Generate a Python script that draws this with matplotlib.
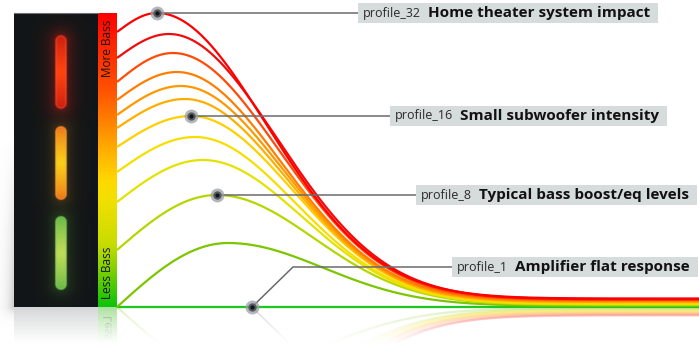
import numpy as np
import matplotlib
matplotlib.use('Agg')
import matplotlib.pyplot as plt
from matplotlib.patches import Rectangle, PathPatch
from matplotlib.colors import LinearSegmentedColormap, to_rgb
from matplotlib.textpath import TextPath
from matplotlib.font_manager import FontProperties
from matplotlib.transforms import Affine2D

FONT = 'Open Sans'

# bass profiles, top (most bass) to bottom (flat)
peak_x = [40, 52, 56, 60, 64, 68, 74, 78, 86, 100, 111, 135]
peak_h = [294, 273, 254, 235, 221, 208, 191, 170, 147, 112, 64, 0]
start_h = [275, 249, 225, 207, 192, 179, 160, 135, 105, 57, 0, 0]
fall_w = [110, 108, 106, 104, 103, 102, 101, 100, 99, 97, 95, 95]
tail_h = [8.5, 7.8, 7.1, 6.4, 5.7, 5.0, 4.3, 3.6, 2.9, 2.2, 1.2, 0.0]
colors = ['#ff0000', '#f00c0c', '#ff4a08', '#ff7e00', '#ff9800', '#ffae00',
          '#ffcf00', '#f6df00', '#e4e200', '#b6d600', '#7cc600', '#1fc81f']

# annotated profiles
ann_idx = [0, 6, 9, 11]
ann_tag = ['profile_32', 'profile_16', 'profile_8', 'profile_1']
ann_title = ['Home theater system impact', 'Small subwoofer intensity',
             'Typical bass boost/eq levels', 'Amplifier flat response']
ann_box_x = [241, 273, 299, 335]
ann_box_y = [294, 191, 112, 40]


def profile(xs, i):
    y = np.empty_like(xs)
    left = xs <= peak_x[i]
    u = xs[left] / peak_x[i]
    y[left] = start_h[i] + (peak_h[i] - start_h[i]) * np.sin(np.pi / 2 * u)
    dx = xs[~left] - peak_x[i]
    y[~left] = tail_h[i] + (peak_h[i] - tail_h[i]) * np.exp(-dx ** 2 / (2 * fall_w[i] ** 2))
    return y


def pill(ax, cx, yb, yt, w, end_c, mid_c, rim_c, glow_c, glow_a, clip):
    m = 24
    x0, x1 = cx - w / 2 - m, cx + w / 2 + m
    y0, y1 = yb - m, yt + m
    gx = np.linspace(x0, x1, int((x1 - x0) * 3))
    gy = np.linspace(y0, y1, int((y1 - y0) * 3))
    X, Y = np.meshgrid(gx, gy)
    r = w / 2
    cy = np.clip(Y, yb + r, yt - r)
    d = np.hypot(X - cx, Y - cy) - r
    pa = np.clip(0.5 - d, 0, 1)
    v = np.clip((Y - yb) / (yt - yb), 0, 1)
    c = (1 - np.abs(2 * v - 1)) ** 0.7
    e = np.array(to_rgb(end_c))
    mc = np.array(to_rgb(mid_c))
    rgb = e + (mc - e) * c[..., None]
    # lighter rim near the edge
    rim = np.clip(1 - np.abs(d + 1.0) / 1.2, 0, 1) * 0.45
    rgb = rgb * (1 - rim[..., None]) + np.array(to_rgb(rim_c)) * rim[..., None]
    ga = glow_a * np.exp(-np.maximum(d, 0) / 7)
    gc = np.array(to_rgb(glow_c))
    a = pa + ga * (1 - pa)
    out = (rgb * pa[..., None] + gc * (ga * (1 - pa))[..., None]) / np.maximum(a, 1e-6)[..., None]
    img = np.dstack([np.clip(out, 0, 1), a])
    im = ax.imshow(img, extent=(x0, x1, y0, y1), origin='lower',
                   interpolation='bilinear', zorder=3, aspect='auto')
    im.set_clip_path(clip)


fig = plt.figure(figsize=(6.99, 3.62), dpi=100)
ax = fig.add_axes([0, 0, 1, 1])
ax.axis('off')

# soft shadow behind the dark panel
gx = np.linspace(-125, -10, 230)
gy = np.linspace(-20, 300, 640)
X, Y = np.meshgrid(gx, gy)
dxp = np.maximum(np.maximum(-103 - X, X + 19), 0)
dyp = np.maximum(np.maximum(0 - Y, Y - 294), 0)
dist = np.hypot(dxp, dyp)
sh = 0.35 * np.exp(-dist / 6) * np.clip((170 - Y) / 170, 0, 1) * (dist > 0)
shadow = np.zeros(X.shape + (4,))
shadow[..., :3] = 0.35
shadow[..., 3] = sh
ax.imshow(shadow, extent=(-125, -10, -20, 300), origin='lower', zorder=1, aspect='auto')

# dark panel
panel = Rectangle((-103, 0), 84, 294, facecolor='#121517', edgecolor='none', zorder=2)
ax.add_patch(panel)
ax.plot([-103, -19], [293.6, 293.6], color='#6f7275', lw=0.8, zorder=2.5)

pill(ax, -56.5, 198, 272, 11.5, '#c41a10', '#ff4210', '#e85a40', '#ff2410', 0.3, panel)
pill(ax, -56.5, 107, 181, 11.5, '#ec6a1c', '#fad018', '#f49a40', '#d89020', 0.2, panel)
pill(ax, -56.5, 17, 91, 11.5, '#5cb444', '#c0dc58', '#7cc460', '#6cbc3c', 0.2, panel)

# gradient bar
bar_cmap = LinearSegmentedColormap.from_list('bass', [
    (0.0, '#0cc40c'), (0.092, '#62cc00'), (0.211, '#c8dc00'), (0.364, '#f2e000'),
    (0.432, '#ffd800'), (0.534, '#ffae00'), (0.636, '#ff8000'), (0.738, '#ff5200'),
    (0.908, '#ff2000'), (1.0, '#ff0000')])
ax.imshow(np.linspace(0, 1, 300)[:, None], cmap=bar_cmap, extent=(-19, 0, 0, 294),
          origin='lower', aspect='auto', zorder=2)
ax.text(-9.5, 259, 'More Bass', rotation=90, ha='center', va='center',
        fontsize=8.5, color='#151515', family=FONT, zorder=3)
ax.text(-9.5, 34, 'Less Bass', rotation=90, ha='center', va='center',
        fontsize=8.5, color='#151515', family=FONT, zorder=3)

# reflection below the baseline
ax.add_patch(Rectangle((-103, -45), 84, 45, facecolor='#d2d3d4', edgecolor='none', zorder=1.5))
ax.add_patch(Rectangle((-19, -45), 19, 45, facecolor='#a8e09a', edgecolor='none', zorder=1.6))
tp = TextPath((0, 0), 'Less Bass', size=11.8, prop=FontProperties(family=FONT))
tr = Affine2D().rotate_deg(90).translate(-5.5, 9).scale(1, -1)
ax.add_patch(PathPatch(tr.transform_path(tp), facecolor='#151515', edgecolor='none',
                       alpha=0.35, zorder=1.7))

xs = np.linspace(0, 582, 1500)
for i in range(len(peak_h)):
    ax.plot(xs, -profile(xs, i), color=colors[i], lw=1.6, alpha=0.25, zorder=1.8)

j = ann_idx[3]
ax.plot([peak_x[j], 176], [0, -ann_box_y[3]], color='#6b6b6b', lw=1.1, alpha=0.3, zorder=1.8)

fade = np.ones((200, 1, 4))
ramp = np.linspace(-55, 0, 200)
fade[:, 0, 3] = np.clip(-ramp / 36, 0, 1) ** 0.8
ax.imshow(fade, extent=(-125, 582, -55, 0), origin='lower', aspect='auto', zorder=4)

# profile curves, flat first so the red curve stays on top
for i in range(len(peak_h) - 1, -1, -1):
    ax.plot(xs, profile(xs, i), color=colors[i], lw=1.6, zorder=5, solid_capstyle='butt')

ax.set_xlim(-117, 582)
ax.set_ylim(-55, 307)
ax.set_autoscale_on(False)

# annotations
fig.canvas.draw()
renderer = fig.canvas.get_renderer()
for k, i in enumerate(ann_idx):
    mx, my = peak_x[i], peak_h[i]
    bx, by = ann_box_x[k], ann_box_y[k]
    if my == by:
        ax.plot([mx, bx], [my, by], color='#6b6b6b', lw=1.1, zorder=6)
    else:
        ax.plot([mx, 176, bx], [my, by, by], color='#6b6b6b', lw=1.1, zorder=6)
    ax.scatter([mx], [my], s=100, color='#9a9ea3', alpha=0.75, zorder=7, linewidths=0)
    ax.scatter([mx], [my], s=36, color='#565b60', zorder=7, linewidths=0)
    ax.scatter([mx], [my], s=9, color='#121518', zorder=7, linewidths=0)
    t1 = ax.text(bx + 5, by, ann_tag[k], ha='left', va='center', fontsize=9,
                 color='#2a2a2a', family=FONT, zorder=8)
    b1 = t1.get_window_extent(renderer).transformed(ax.transData.inverted())
    t2 = ax.text(b1.x1 + 7, by, ann_title[k], ha='left', va='center', fontsize=11,
                 fontweight='bold', color='#111111', family=FONT, zorder=8)
    b2 = t2.get_window_extent(renderer).transformed(ax.transData.inverted())
    ax.add_patch(Rectangle((bx, by - 10), b2.x1 + 8 - bx, 20, facecolor='#d6dbdb',
                           edgecolor='none', zorder=7))

ax.set_xlim(-117, 582)
ax.set_ylim(-55, 307)
fig.savefig('out.png', dpi=100, facecolor='white')
